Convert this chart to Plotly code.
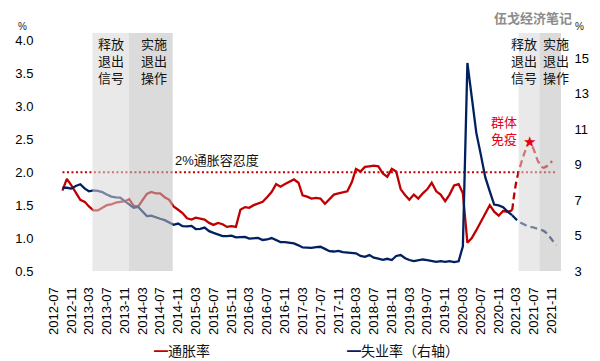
import plotly.graph_objects as go
import pandas as pd

# ---------------- data ----------------
actual_start = "2012-09-01"
inflation = [
    1.72, 1.90, 1.80, 1.70, 1.58, 1.55, 1.48, 1.42, 1.42, 1.46,
    1.50, 1.51, 1.54, 1.55, 1.56, 1.59, 1.49, 1.48, 1.57, 1.67,
    1.70, 1.68, 1.68, 1.62, 1.58, 1.48, 1.43, 1.38, 1.30, 1.28,
    1.31, 1.29, 1.28, 1.23, 1.20, 1.23, 1.21, 1.17, 1.18, 1.17,
    1.43, 1.47, 1.46, 1.50, 1.53, 1.55, 1.62, 1.70, 1.82, 1.78,
    1.82, 1.86, 1.89, 1.84, 1.65, 1.63, 1.60, 1.61, 1.60, 1.52,
    1.60, 1.66, 1.68, 1.69, 1.71, 1.85, 2.05, 2.01, 2.08, 2.09,
    2.10, 2.09, 1.98, 1.93, 2.05, 2.01, 1.74, 1.65, 1.58, 1.66,
    1.60, 1.68, 1.74, 1.84, 1.71, 1.66, 1.56, 1.66, 1.80, 1.82,
    1.68, 0.93, 1.00, 1.12, 1.24, 1.38, 1.50, 1.40, 1.34, 1.41, 1.40, 1.42,
]
unemployment = [
    7.70, 7.70, 7.65, 7.80, 7.90, 7.65, 7.50, 7.55, 7.52, 7.45,
    7.32, 7.20, 7.16, 7.14, 6.95, 6.75, 6.57, 6.62, 6.40, 6.10,
    6.12, 6.02, 5.95, 5.87, 5.72, 5.61, 5.68, 5.53, 5.52, 5.55,
    5.37, 5.38, 5.45, 5.25, 5.15, 5.08, 4.97, 4.97, 5.00, 4.90,
    4.92, 4.93, 4.83, 4.85, 4.87, 4.75, 4.78, 4.86, 4.75, 4.63,
    4.63, 4.60, 4.56, 4.45, 4.33, 4.32, 4.31, 4.35, 4.37, 4.25,
    4.12, 4.10, 4.14, 4.07, 4.05, 4.03, 4.00, 3.85, 3.80, 3.90,
    3.75, 3.70, 3.63, 3.69, 3.62, 3.85, 3.90, 3.72, 3.62, 3.56,
    3.62, 3.65, 3.62, 3.57, 3.52, 3.56, 3.52, 3.56, 3.50, 3.55,
    4.40, 14.75, 12.80, 10.80, 9.60, 8.30, 7.50, 6.75, 6.70, 6.60, 6.35, 6.15,
]
forecast_start = "2021-02-01"
inflation_fc = [1.42, 1.85, 2.12, 2.32, 2.46, 2.33, 2.15, 2.07, 2.10, 2.17]
unemployment_fc = [6.15, 5.92, 5.72, 5.60, 5.50, 5.45, 5.37, 5.28, 5.08, 4.75, 4.45]

star_date = ["2021-06-01"]
star_value = [2.46]
tolerance = 2.0

tick_labels = [
    "2012-07", "2012-11", "2013-03", "2013-07", "2013-11", "2014-03", "2014-07",
    "2014-11", "2015-03", "2015-07", "2015-11", "2016-03", "2016-07", "2016-11",
    "2017-03", "2017-07", "2017-11", "2018-03", "2018-07", "2018-11", "2019-03",
    "2019-07", "2019-11", "2020-03", "2020-07", "2020-11", "2021-03", "2021-07",
    "2021-11",
]
signal_periods = [("2013-03-25", "2013-11-29"), ("2021-03-17", "2021-08-07")]
operation_periods = [("2013-11-29", "2014-09-25"), ("2021-08-07", "2022-01-01")]

# ---------------- build ----------------
dates = pd.date_range(actual_start, periods=len(inflation), freq="MS")
dates_u = pd.date_range(actual_start, periods=len(unemployment), freq="MS")
fc_dates_i = pd.date_range(forecast_start, periods=len(inflation_fc), freq="MS")
fc_dates_u = pd.date_range(forecast_start, periods=len(unemployment_fc), freq="MS")

RED = "#C00000"
BLUE = "#002060"
BRIGHT = "#E60012"
FONT = "Liberation Sans, Arial, Noto Sans CJK SC, sans-serif"

fig = go.Figure()
fig.add_trace(go.Scatter(x=[dates[0], fc_dates_u[-1]], y=[tolerance, tolerance],
                         mode="lines", line=dict(color=RED, width=2, dash="2px,2.5px"),
                         showlegend=False, hoverinfo="skip"))
fig.add_trace(go.Scatter(x=dates, y=inflation, mode="lines", name="通胀率",
                         line=dict(color=RED, width=2.3), showlegend=False))
fig.add_trace(go.Scatter(x=fc_dates_i, y=inflation_fc, mode="lines",
                         line=dict(color=RED, width=2.3, dash="7px,4px", shape="spline"),
                         showlegend=False))
fig.add_trace(go.Scatter(x=dates_u, y=unemployment, mode="lines", name="失业率（右轴）",
                         line=dict(color=BLUE, width=2.3), yaxis="y2", showlegend=False))
fig.add_trace(go.Scatter(x=fc_dates_u, y=unemployment_fc, mode="lines",
                         line=dict(color=BLUE, width=2.3, dash="7px,4px", shape="spline"),
                         yaxis="y2", showlegend=False))

shapes = []
for s, e in signal_periods:
    shapes.append(dict(type="rect", xref="x", yref="paper", x0=s, x1=e, y0=0, y1=1,
                       fillcolor="rgba(215,215,215,0.55)", line=dict(width=0), layer="above"))
for s, e in operation_periods:
    shapes.append(dict(type="rect", xref="x", yref="paper", x0=s, x1=e, y0=0, y1=1,
                       fillcolor="rgba(190,190,190,0.55)", line=dict(width=0), layer="above"))

def txt(text, x, y, size=13, color="#111", xanchor="center", yanchor="middle", xref="paper", yref="paper"):
    return dict(text=text, x=x, y=y, xref=xref, yref=yref, showarrow=False,
                font=dict(size=size, color=color, family=FONT),
                xanchor=xanchor, yanchor=yanchor, align="center")

annotations = [
    txt("2%通胀容忍度", 0.329, 0.466),
    txt("释放<br>退出<br>信号", 0.122, 0.992, yanchor="top"),
    txt("实施<br>退出<br>操作", 0.2045, 0.992, yanchor="top"),
    txt("释放<br>退出<br>信号", 0.928, 0.992, yanchor="top"),
    txt("实施<br>退出<br>操作", 0.990, 0.992, yanchor="top"),
    txt("群体<br>免疫", 0.889, 0.665, color=BRIGHT, yanchor="top"),
    txt("%", -0.051, 1.026, size=10, color="#222"),
    txt("%", 1.037, 1.026, size=10, color="#222"),
    txt("<b>伍戈经济笔记</b>", 0.946, 1.059, size=13, color="#8C8C8C"),
    txt("<span style='color:%s'>━</span>通胀率" % RED, 0.2006, -0.336, size=14, color="#111", xanchor="left"),
    txt("<span style='color:%s'>━</span>失业率（右轴）" % BLUE, 0.578, -0.336, size=14, color="#111", xanchor="left"),
    dict(text="★", x=star_date[0], y=star_value[0], xref="x", yref="y", showarrow=False,
         font=dict(size=15, color=BRIGHT, family="DejaVu Sans"), xanchor="center", yanchor="middle"),
]

fig.update_layout(
    width=600, height=361,
    margin=dict(l=49, r=39, t=33, b=90),
    paper_bgcolor="white", plot_bgcolor="white",
    font=dict(family=FONT, size=13, color="#000"),
    shapes=shapes, annotations=annotations, showlegend=False,
    xaxis=dict(type="date", range=["2012-06-01", "2022-01-01"],
               tickvals=[t + "-01" for t in tick_labels], ticktext=tick_labels,
               tickangle=-90, ticks="outside", ticklen=10, tickcolor="rgba(0,0,0,0)",
               showgrid=False, zeroline=False, showline=False,
               tickfont=dict(size=13, color="#000")),
    yaxis=dict(range=[0.5, 0.5 + 238 / 65.86], tickvals=[0.5, 1.0, 1.5, 2.0, 2.5, 3.0, 3.5, 4.0],
               tickformat=".1f", ticks="outside", ticklen=12, tickcolor="rgba(0,0,0,0)",
               showgrid=False, zeroline=False, showline=False, tickfont=dict(size=13, color="#000")),
    yaxis2=dict(range=[3, 3 + 238 / 17.71], tickvals=[3, 5, 7, 9, 11, 13, 15], overlaying="y",
                side="right", ticks="outside", ticklen=10, tickcolor="rgba(0,0,0,0)",
                showgrid=False, zeroline=False, showline=False, tickfont=dict(size=13, color="#000")),
)

fig.write_html("out.html", config={"displayModeBar": False},
               post_script="document.body.style.margin='0px';document.body.style.overflow='hidden';")
